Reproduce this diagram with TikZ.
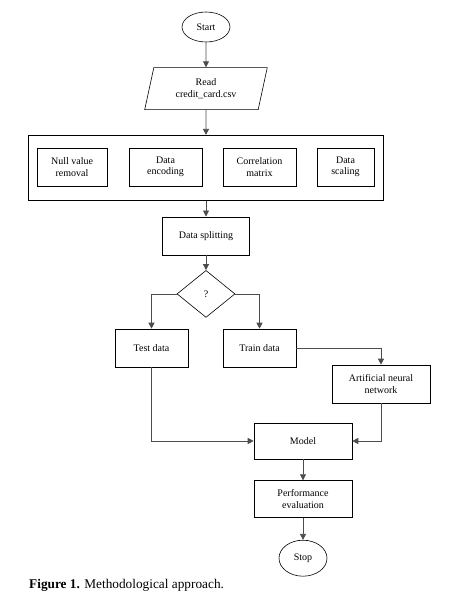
\documentclass[tikz,border=0pt]{standalone}
\usepackage{fontspec}
\setmainfont{Liberation Serif}
\usepackage{tikz}
\usetikzlibrary{
  arrows.meta,
  positioning,
  shapes.geometric,
}
\tikzstyle{box} = [
  draw,
  rectangle,
  minimum height=38,
  align=center,
  inner sep=2pt,
  line width=0.6pt,
  font=\fontsize{10}{11.5}\selectfont,
]
\tikzstyle{arrow} = [
  -{Triangle[length=6pt,width=6pt]},
  line width=0.7pt,
  draw=black!70,
]

\begin{document}
\begin{tikzpicture}[x=1pt,y=1pt]

        \useasboundingbox (0,0) rectangle (470,-600);

        \node[box,ellipse,minimum width=48,minimum height=30] (start) at (206,-27) {Start};
        \node[box,trapezium,trapezium left angle=76.6,trapezium right angle=103.4,trapezium stretches=true,minimum width=123,minimum height=42] (read) [below=25 of start] {Read\\credit\_card.csv};

        \node[box,minimum width=355,minimum height=65] (prep) [below=25 of read] {};
        \node[box,minimum width=70] (null) at (72,-167) {Null value\\removal};
        \node[box,minimum width=73] (enc) at (165.5,-167) {Data\\encoding};
        \node[box,minimum width=73] (corr) at (259.5,-167) {Correlation\\matrix};
        \node[box,minimum width=57] (scal) at (345.5,-167) {Data\\scaling};

        \node[box,minimum width=87] (split) [below=16 of prep] {Data splitting};
        \node[box,diamond,minimum width=58,minimum height=47,inner sep=0pt] (q) [below=15 of split] {?};

        \node[box,minimum width=73] (test) at (151.5,-348) {Test data};
        \node[box,minimum width=73] (train) at (259.5,-348) {Train data};
        \node[box,minimum width=98] (ann) at (381,-384) {Artificial neural\\network};

        \node[box,minimum width=98,minimum height=36] (model) at (303,-441) {Model};
        \node[box,minimum width=98,minimum height=37] (perf) [below=21 of model] {Performance\\evaluation};
        \node[box,ellipse,minimum width=48,minimum height=36] (stop) [below=22 of perf] {Stop};

        \node[anchor=base west,inner sep=0pt,font=\fontsize{13.3}{15}\selectfont] (caption) at (29,-588) {\textbf{Figure 1.} Methodological approach.};

        \draw[arrow] (start) -- (read);
        \draw[arrow] (read) -- (prep);
        \draw[arrow] (prep) -- (split);
        \draw[arrow] (split) -- (q);
        \draw[arrow] (q.west) -| (test.north);
        \draw[arrow] (q.east) -| (train.north);
        \draw[arrow] (train.east) -| (ann.north);
        \draw[arrow] (test.south) |- (model.west);
        \draw[arrow] (ann.south) |- (model.east);
        \draw[arrow] (model) -- (perf);
        \draw[arrow] (perf) -- (stop);

\end{tikzpicture}
\end{document}
